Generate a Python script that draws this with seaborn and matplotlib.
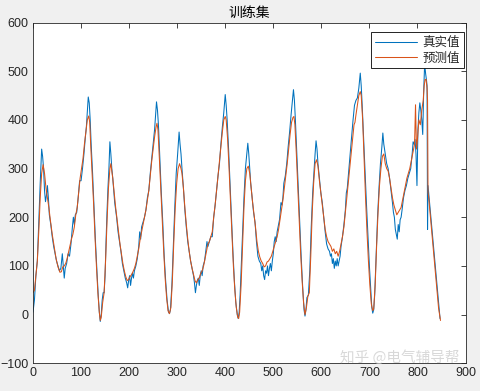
import matplotlib
matplotlib.use("Agg")
import matplotlib.pyplot as plt
import seaborn as sns
import pandas as pd

# ---- data ----
title_text = "训练集"
series_names = ["真实值", "预测值"]
x_ticks = [0, 100, 200, 300, 400, 500, 600, 700, 800, 900]
y_ticks = [-100, 0, 100, 200, 300, 400, 500, 600]

true_x = [0, 3, 6, 9, 12, 15, 18, 20, 22, 24, 26, 28, 30, 32, 34, 37, 40, 43, 46, 49, 52, 55, 58, 61, 63, 65, 67, 70, 73, 76, 79, 82, 84, 86, 88, 91, 94, 97, 100, 103, 106, 109, 111, 113, 115, 117, 119, 121, 124, 127, 130, 133, 136, 138, 140, 142, 144, 146, 148, 150, 152, 154, 156, 158, 160, 162, 164,
          166, 168, 170, 172, 174, 177, 180, 183, 186, 189, 192, 195, 197, 199, 201, 203, 205, 207, 209, 211, 214, 217, 220, 222, 224, 226, 229, 232, 235, 238, 241, 244, 247, 250, 253, 255, 257, 259, 261, 264, 267, 270, 273, 276, 279, 282, 284, 286, 289, 292, 295, 298, 301, 304, 306, 308,
          310, 313, 316, 319, 322, 325, 328, 331, 334, 336, 338, 340, 342, 344, 346, 348, 350, 352, 354, 357, 360, 362, 364, 367, 370, 373, 376, 379, 382, 385, 388, 391, 394, 397, 400, 402, 404, 407, 410, 413, 416, 419, 422, 425, 427, 429, 431, 433, 436, 439, 442, 445, 447, 449, 451,
          453, 456, 459, 462, 465, 468, 471, 474, 476, 478, 480, 482, 484, 486, 488, 490, 492, 494, 496, 498, 500, 502, 504, 506, 508, 510, 513, 516, 518, 520, 522, 525, 528, 531, 534, 537, 540, 542, 544, 546, 549, 552, 555, 558, 561, 564, 566, 568, 570, 573, 576, 579, 582, 585, 587, 589, 591, 593,
          596, 599, 602, 605, 608, 611, 614, 617, 619, 621, 623, 625, 627, 629, 631, 633, 635, 637, 639, 641, 644, 647, 650, 652, 654, 657, 660, 663, 666, 669, 672, 675, 678, 681, 683, 685, 688, 691, 694, 697, 700, 703, 705, 707, 709, 711, 714, 717, 720, 723, 726, 728, 730, 733, 736,
          739, 742, 745, 748, 750, 752, 754, 756, 758, 760, 762, 764, 766, 768, 771, 774, 777, 780, 783, 786, 789, 791, 793, 795, 797, 799, 801, 803, 805, 807, 809, 811, 813, 815, 817, 819, 820, 821, 822, 826, 830, 835, 840, 844, 847]
true_y = [5, 30, 80, 110, 190, 270, 340, 325, 300, 255, 232, 245, 265, 240, 205, 185, 160, 140, 125, 110, 100, 90, 95, 125, 100, 75, 95, 105, 125, 120, 145, 180, 200, 185, 205, 210, 240, 275, 275, 300, 330, 365, 385, 415, 447, 435, 400, 350, 290, 220, 150, 90, 35, 5, -14, 0, 30, 45, 45, 80, 150, 210, 260, 300, 355, 330, 300,
          280, 255, 230, 215, 200, 170, 150, 130, 105, 90, 75, 65, 55, 70, 80, 60, 75, 85, 75, 90, 100, 115, 140, 170, 155, 180, 190, 200, 215, 240, 255, 290, 320, 350, 380, 410, 437, 420, 390, 320, 250, 190, 120, 70, 30, 5, 2, 10, 60, 140, 220, 290, 330, 375, 350, 330,
          300, 260, 215, 180, 150, 130, 110, 95, 80, 65, 45, 60, 70, 75, 60, 80, 90, 80, 100, 110, 135, 150, 140, 150, 160, 160, 200, 225, 255, 285, 310, 350, 385, 415, 452, 430, 400, 340, 270, 200, 130, 70, 25, 0, -8, 5, 40, 90, 170, 240, 300, 330, 352, 330, 300,
          270, 240, 210, 190, 150, 120, 110, 105, 90, 100, 80, 72, 90, 85, 100, 80, 95, 105, 90, 110, 125, 150, 160, 150, 170, 180, 195, 230, 225, 240, 270, 285, 310, 345, 375, 410, 440, 462, 440, 400, 330, 260, 190, 120, 60, 10, -3, 10, 35, 40, 90, 180, 250, 300, 330, 357, 340, 310,
          280, 250, 230, 200, 170, 145, 135, 130, 120, 125, 105, 115, 95, 110, 100, 115, 100, 110, 120, 140, 160, 185, 215, 250, 260, 295, 330, 365, 400, 430, 440, 445, 465, 496, 470, 430, 360, 290, 225, 160, 100, 50, 15, 3, 10, 40, 120, 200, 260, 310, 345, 373, 350, 330, 310,
          300, 280, 255, 230, 210, 200, 175, 165, 155, 185, 170, 195, 200, 215, 240, 255, 265, 280, 290, 300, 330, 355, 350, 360, 330, 265, 380, 415, 435, 420, 400, 370, 460, 515, 495, 480, 470, 175, 265, 222, 178, 123, 68, 24, -8]

pred_x = [0, 3, 6, 9, 12, 15, 18, 21, 24, 27, 30, 33, 36, 40, 44, 48, 52, 56, 59, 62, 65, 68, 71, 74, 77, 80, 83, 86, 89, 92, 95, 98, 101, 104, 107, 110, 113, 116, 118, 120, 123, 126, 129, 132, 135, 138, 140, 142, 145, 148, 151, 154, 157, 160, 162, 164,
          166, 169, 172, 175, 178, 181, 184, 187, 190, 193, 196, 199, 202, 205, 208, 211, 214, 217, 220, 223, 226, 229, 232, 235, 238, 241, 244, 247, 250, 253, 256, 258, 260, 263, 266, 269, 272, 275, 278, 281, 284, 287, 290, 293, 296, 299, 302, 305, 308,
          310, 313, 316, 319, 322, 325, 328, 331, 334, 337, 340, 343, 346, 349, 352, 355, 358, 361, 364, 367, 370, 373, 376, 379, 382, 385, 388, 391, 394, 397, 400, 402, 405, 408, 411, 414, 417, 420, 423, 426, 428, 430, 433, 436, 439, 442, 445, 448, 451,
          454, 457, 460, 463, 466, 469, 472, 475, 478, 481, 484, 487, 490, 493, 496, 499, 502, 505, 508, 511, 514, 517, 520, 523, 526, 529, 532, 535, 538, 541, 543, 545, 548, 551, 554, 557, 560, 563, 566, 569, 572, 575, 578, 581, 584, 587, 590, 593,
          596, 599, 602, 605, 608, 611, 614, 617, 620, 623, 626, 629, 632, 635, 638, 641, 644, 647, 650, 653, 656, 659, 662, 665, 668, 670, 672, 675, 678, 681, 683, 686, 689, 692, 695, 698, 701, 704, 707, 709, 712, 715, 718, 721, 724, 727, 730, 733, 736,
          739, 742, 745, 748, 751, 754, 757, 760, 763, 766, 769, 772, 775, 778, 781, 784, 787, 790, 793, 794, 796, 798, 800, 803, 806, 809, 812, 814, 816, 818, 820, 821, 822, 823, 826, 830, 835, 840, 844, 848]
pred_y = [45, 50, 80, 110, 170, 240, 290, 308, 290, 260, 240, 220, 195, 165, 140, 115, 98, 87, 88, 98, 100, 105, 115, 128, 140, 155, 165, 180, 205, 220, 250, 280, 300, 320, 350, 375, 400, 408, 395, 350, 290, 230, 160, 100, 45, 5, -12, -5, 25, 45, 110, 190, 260, 300, 310, 295,
          280, 250, 220, 195, 170, 145, 125, 105, 90, 78, 70, 72, 78, 82, 88, 95, 105, 120, 135, 155, 170, 185, 200, 215, 235, 255, 285, 315, 340, 365, 385, 393, 380, 320, 255, 190, 130, 75, 35, 8, 2, 15, 70, 150, 220, 270, 300, 310, 300,
          290, 260, 220, 185, 155, 130, 110, 95, 82, 70, 65, 72, 75, 85, 90, 100, 115, 130, 145, 150, 160, 170, 200, 225, 255, 285, 315, 345, 375, 400, 407, 400, 360, 300, 230, 165, 100, 50, 15, -5, -8, 5, 60, 140, 220, 275, 300, 305, 290,
          260, 230, 205, 180, 150, 130, 118, 110, 105, 98, 100, 108, 110, 115, 120, 130, 140, 150, 160, 175, 195, 215, 235, 260, 285, 310, 340, 370, 395, 405, 407, 390, 330, 260, 190, 125, 70, 25, 0, 15, 38, 45, 120, 210, 270, 310, 318, 305,
          275, 250, 225, 200, 175, 160, 150, 145, 140, 130, 135, 125, 130, 120, 130, 145, 160, 180, 210, 240, 270, 300, 330, 360, 390, 395, 410, 430, 450, 458, 450, 400, 320, 240, 170, 110, 60, 22, 8, 12, 60, 140, 210, 265, 300, 325, 330, 310, 300,
          295, 280, 260, 240, 225, 215, 205, 210, 215, 220, 235, 250, 265, 280, 290, 300, 315, 330, 345, 350, 431, 340, 360, 400, 390, 420, 440, 470, 483, 483, 465, 440, 250, 245, 212, 168, 112, 57, 13, -12]

df_true = pd.DataFrame({"x": true_x, "y": true_y})
df_pred = pd.DataFrame({"x": pred_x, "y": pred_y})

# ---- style ----
sns.set_style("white")
plt.rcParams["font.family"] = ["Liberation Sans", "Noto Sans CJK SC", "DejaVu Sans"]

fig = plt.figure(figsize=(4.8, 3.91), dpi=100, facecolor="#f0f0f0")
ax = fig.add_axes([33 / 480, 1 - 363.3 / 391, (465.5 - 33) / 480, (363.3 - 22.5) / 391])
ax.set_facecolor("white")

sns.lineplot(data=df_true, x="x", y="y", ax=ax, color="#0072BD", linewidth=0.75,
             label=series_names[0], estimator=None, sort=False)
sns.lineplot(data=df_pred, x="x", y="y", ax=ax, color="#D95319", linewidth=0.75,
             label=series_names[1], estimator=None, sort=False)

ax.set_xlim(0, 900)
ax.set_ylim(-100, 600)
ax.set_xticks(x_ticks)
ax.set_yticks(y_ticks)
ax.set_xlabel("")
ax.set_ylabel("")
ax.tick_params(direction="in", length=3.5, width=0.6, top=True, right=True,
               labelsize=9, colors="#262626", pad=3)
for s in ax.spines.values():
    s.set_visible(True)
    s.set_color("#262626")
    s.set_linewidth(0.6)

ax.set_title(title_text, fontsize=10, family=["Noto Sans CJK SC"], color="black", pad=4)

leg = ax.legend(loc="upper right", bbox_to_anchor=(0.9965, 0.971), borderaxespad=0,
                prop={"family": "Noto Sans CJK SC", "size": 9}, frameon=True,
                fancybox=False, framealpha=1, edgecolor="black", handlelength=3.4,
                handletextpad=0.45, labelspacing=0.2, borderpad=0.3)
leg.get_frame().set_linewidth(0.6)

fig.text(400 / 480, 1 - 357 / 391, "知乎 @电气辅导帮", family=["Noto Sans CJK SC"],
         fontsize=10.5, color="#c8c8c8", alpha=0.7, ha="center", va="center")

fig.savefig("out.png", dpi=100, facecolor=fig.get_facecolor())
